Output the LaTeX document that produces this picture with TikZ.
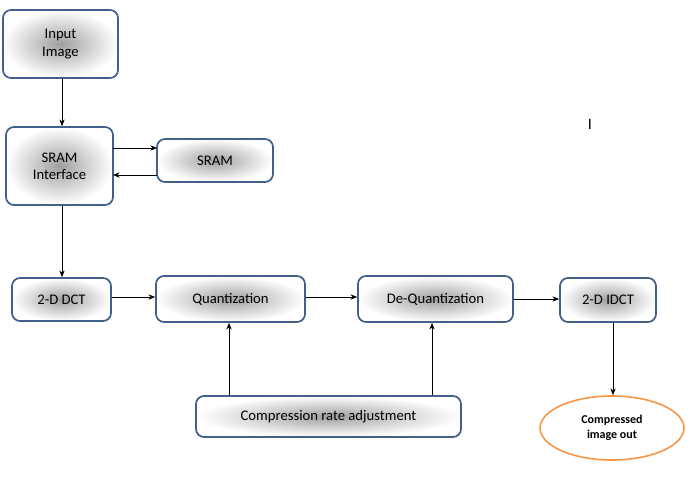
\documentclass[tikz,border=0pt]{standalone}
\usepackage{fontspec}
\setmainfont{Carlito}
\usetikzlibrary{shapes.geometric,arrows.meta}
\definecolor{bord}{HTML}{41618C}
\definecolor{org}{HTML}{F79646}
\tikzset{
 blk/.style={draw=bord,line width=1.3pt,rounded corners=6pt,inner color=gray!75,outer color=white,
   shading=radial,align=center,font=\fontsize{11}{13}\selectfont,inner sep=0pt},
 arr/.style={-{Stealth[length=5pt,width=4pt]},line width=0.5pt}
}
\begin{document}
\begin{tikzpicture}[x=0.75pt,y=-0.75pt]
\useasboundingbox (0,0) rectangle (691,503);
\node[blk,minimum width=86.25pt,minimum height=51pt] (in) at (60.5,44) {Input\\Image};
\node[blk,minimum width=80.25pt,minimum height=58.5pt] (si) at (59.5,166) {SRAM\\Interface};
\node[blk,minimum width=87pt,minimum height=32.25pt] (sr) at (215,160.5) {SRAM};
\node[blk,minimum width=74.25pt,minimum height=32.25pt] (dct) at (61.5,299.5) {2-D DCT};
\node[blk,minimum width=111.75pt,minimum height=34.5pt] (q) at (230.5,299) {Quantization};
\node[blk,minimum width=116.25pt,minimum height=34.5pt] (dq) at (435.5,299) {De-Quantization};
\node[blk,minimum width=72pt,minimum height=33pt] (idct) at (608,300) {2-D IDCT};
\node[blk,minimum width=198.75pt,minimum height=30.75pt] (cr) at (328.5,416.5) {Compression rate adjustment};
\node[ellipse,draw=org,line width=1.2pt,fill=white,minimum width=108pt,minimum height=48pt,align=center,
  font=\fontsize{9}{11}\selectfont\bfseries,inner sep=0pt] (out) at (612,428) {Compressed\\image out};
\node[font=\fontsize{12}{14}\selectfont,inner sep=0pt] (i) at (590,124) {I};
\draw[arr] (in.south -| 62,0) -- (si.north -| 62,0);
\draw[arr] (113,148) -- (157,148);
\draw[arr] (157,175) -- (113,175);
\draw[arr] (si.south -| 62,0) -- (dct.north -| 62,0);
\draw[arr] (dct.east |- 0,297) -- (q.west |- 0,297);
\draw[arr] (q.east |- 0,297) -- (dq.west |- 0,297);
\draw[arr] (dq.east |- 0,299) -- (idct.west |- 0,299);
\draw[arr] (cr.north -| 229,0) -- (q.south -| 229,0);
\draw[arr] (cr.north -| 432,0) -- (dq.south -| 432,0);
\draw[arr] (idct.south -| 613,0) -- (out.north -| 613,0);
\end{tikzpicture}
\end{document}
